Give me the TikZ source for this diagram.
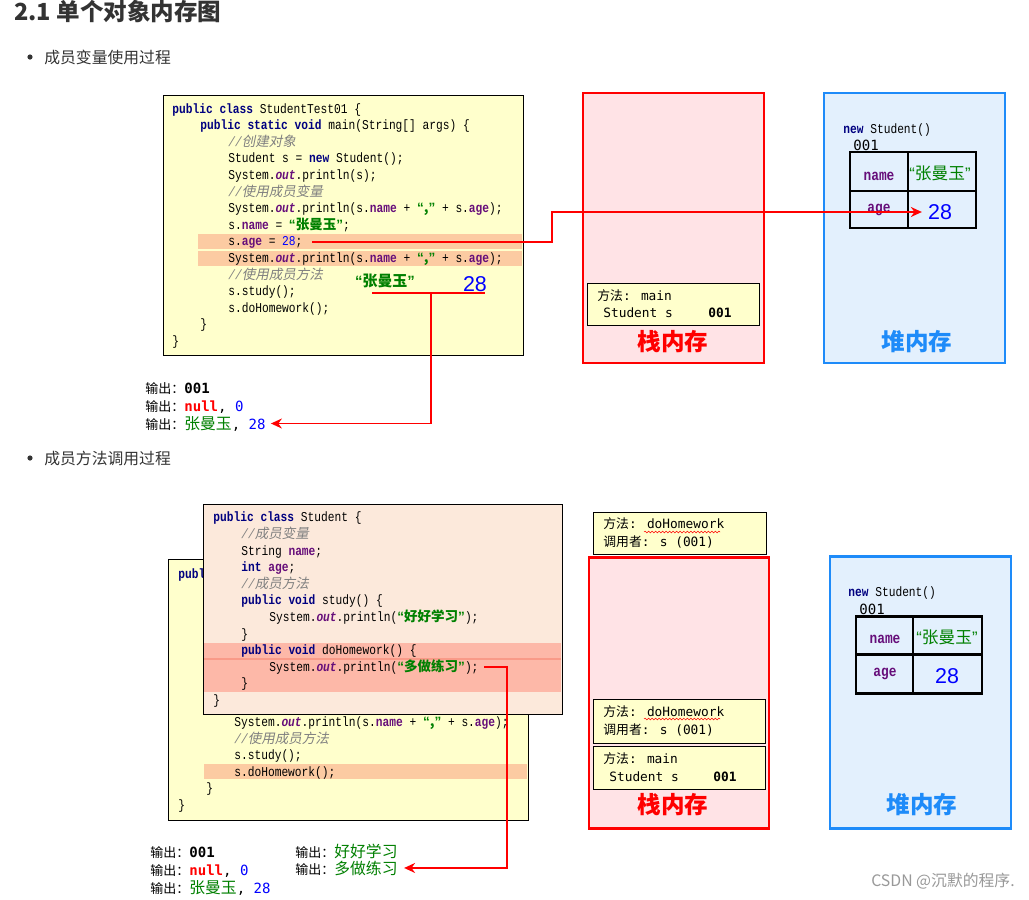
\documentclass[tikz,border=0pt]{standalone}
\usepackage{fontspec}
\usepackage{xcolor}
\usepackage{tikz}
\usetikzlibrary{arrows.meta,decorations.pathmorphing}
\setmainfont{Liberation Sans}
\setmonofont{Liberation Mono}[FakeStretch=0.83]
\newfontfamily\cjk{Noto Sans CJK SC}[ItalicFont={Noto Sans CJK SC},ItalicFeatures={FakeSlant=0.2}]
\newfontfamily\outmono{DejaVu Sans Mono}
\definecolor{kwblue}{HTML}{000080}
\definecolor{fldpurple}{HTML}{660E7A}
\definecolor{strgreen}{HTML}{008000}
\definecolor{cmtgray}{HTML}{808080}
\definecolor{numblue}{HTML}{0000FF}
\definecolor{codebg}{HTML}{FFFFCC}
\definecolor{hlpeach}{HTML}{FCCBA2}
\definecolor{frontbg}{HTML}{FCE9DB}
\definecolor{hlsalmon}{HTML}{FDB8A8}
\definecolor{salmonline}{HTML}{F99A88}
\definecolor{stackbg}{HTML}{FFE3E6}
\definecolor{stackred}{HTML}{FF0000}
\definecolor{heapbg}{HTML}{E3F0FD}
\definecolor{heapblue}{HTML}{1E8BF9}
\definecolor{headgray}{HTML}{333333}
\newcommand\codefont{\ttfamily\fontsize{7.7}{9.45}\selectfont}
\newcommand\outfont{\cjk\fontsize{7.4}{9}\selectfont}
\newcommand\framefont{\fontsize{7.3}{9}\selectfont}
\newcommand\omono{\outmono\fontsize{8}{9}\selectfont}
\newcommand\codeind{\hspace*{0.56cm}}
\newcommand\kw[1]{{\bfseries\color{kwblue}#1}}
\newcommand\fld[1]{{\bfseries\color{fldpurple}#1}}
\newcommand\outf{{\bfseries\itshape\color{fldpurple}out}}
\newcommand\cmt[1]{{\itshape\color{cmtgray}#1}}
\newcommand\zhq[1]{{\rmfamily“}#1{\rmfamily”}}
\newcommand\jstr[1]{{\cjk\bfseries\color{strgreen}#1}}
\tikzset{
  codebox/.style={draw=black,fill=codebg,line width=0.5pt},
  frontbox/.style={draw=black,fill=frontbg,line width=0.5pt},
  codetext/.style={anchor=base west,inner sep=0pt,align=left,font=\codefont},
  stackbox/.style={draw=stackred,fill=stackbg,line width=1.7pt},
  heapbox/.style={draw=heapblue,fill=heapbg,line width=1.7pt},
  framebox/.style={draw=black,fill=codebg,line width=0.5pt},
  frametext/.style={anchor=west,inner sep=0pt,font=\framefont},
  objtable/.style={draw=black,line width=1.7pt},
  cellkey/.style={font=\ttfamily\bfseries\fontsize{8.8}{10}\selectfont,fldpurple},
  cellname/.style={font=\cjk\fontsize{9.5}{11}\selectfont,strgreen},
  cellage/.style={font=\fontsize{12.2}{14}\selectfont,numblue},
  memlabel/.style={font=\cjk\bfseries\fontsize{13.4}{15}\selectfont},
  outtext/.style={anchor=base west,inner sep=0pt,font=\outfont},
  bullettext/.style={anchor=west,inner sep=0pt,headgray,font=\cjk\fontsize{9}{11}\selectfont},
  redarrow/.style={-{Stealth[length=2.2mm,width=2mm]},line width=0.9pt,stackred},
  redline/.style={line width=0.9pt,stackred},
  wavy/.style={draw=stackred,line width=0.3pt,decorate,
               decoration={snake,amplitude=0.5pt,segment length=2pt}},
}

\begin{document}
\begin{tikzpicture}[x=0.02cm,y=-0.02cm]
  \useasboundingbox[fill=white](0,0)rectangle(1029,900);
  % heading and bullets
  \node[anchor=west,inner sep=0pt,headgray,font=\cjk\bfseries\fontsize{13.4}{15}\selectfont]
    (title)at(14,12){2.1 单个对象内存图};
  \fill[headgray](30,57)circle(2.6);
  \node[bullettext](bullet1)at(44,57){成员变量使用过程};
  \fill[headgray](30,458)circle(2.6);
  \node[bullettext](bullet2)at(44,458){成员方法调用过程};

  % ---- part 1: member variables ----
  \draw[codebox](163,95)rectangle(523,355);
  \fill[hlpeach](198,234)rectangle(522,249);
  \fill[hlpeach](198,251)rectangle(522,266);
  % base of a multi-line node = baseline of its last line
  \node[codetext](maincode)at(172,345.5){%
    \kw{public class} StudentTest01 \{\\
    \codeind\kw{public static void} main(String[] args) \{\\
    \codeind\codeind\cmt{//\cjk 创建对象}\\
    \codeind\codeind Student s = \kw{new} Student();\\
    \codeind\codeind System.\outf.println(s);\\
    \codeind\codeind\cmt{//\cjk 使用成员变量}\\
    \codeind\codeind System.\outf.println(s.\fld{name} + \jstr{\zhq{,}} + s.\fld{age});\\
    \codeind\codeind s.\fld{name} = \jstr{\zhq{张曼玉}};\\
    \codeind\codeind s.\fld{age} = {\color{numblue}28};\\
    \codeind\codeind System.\outf.println(s.\fld{name} + \jstr{\zhq{,}} + s.\fld{age});\\
    \codeind\codeind\cmt{//\cjk 使用成员方法}\\
    \codeind\codeind s.study();\\
    \codeind\codeind s.doHomework();\\
    \codeind\}\\
    \}};
  \node[font=\cjk\bfseries\fontsize{8.5}{10}\selectfont,strgreen](printname)at(385,281)
    {\zhq{张曼玉}};
  \node[cellage](printage)at(475,284){28};
  \draw[redline](372,293)--(485,293);

  % stack
  \draw[stackbox](583,93)rectangle(764,363);
  \draw[framebox](587,283)rectangle(759,325);
  \node[frametext](mainframe)at(597,296){\cjk 方法\outmono: main};
  \node[frametext](mainvar)at(603,313){\outmono Student s};
  \node[frametext](mainref)at(708,313){\outmono\bfseries 001};
  \node[memlabel,stackred](stacklabel)at(673,342){栈内存};

  % heap
  \draw[heapbox](824,93)rectangle(1005,363);
  \node[anchor=west,inner sep=0pt,font=\codefont](newobj)at(843,130){\kw{new} Student()};
  \node[anchor=west,inner sep=0pt,font=\omono](objaddr)at(853,145){001};
  \draw[objtable](850,152)rectangle(976,228);
  \draw[objtable](908,152)--(908,228);
  \draw[objtable](850,191)--(976,191);
  \node[cellkey](heapname)at(879,176){name};
  \node[cellname](heapnameval)at(940,173){\zhq{张曼玉}};
  \node[cellkey](heapage)at(879,210){age};
  \node[cellage](heapageval)at(940,212){28};
  \node[memlabel,heapblue](heaplabel)at(917,342){堆内存};

  % output
  \node[outtext](out1)at(145,393){输出：{\omono\bfseries 001}};
  \node[outtext](out2)at(145,411){输出：{\omono\bfseries\color{stackred}null}{\omono, \color{numblue}0}};
  \node[outtext](out3)at(145,429){输出：{\fontsize{9}{10}\selectfont\color{strgreen}张曼玉}{\omono, \color{numblue}28}};

  \coordinate(agestart)at(312,242);
  \draw[redarrow](agestart)--(552,242)|-(heapageval.west);
  \coordinate(printtap)at(431,293);
  \draw[redarrow](printtap)|-([xshift=2.8pt]out3.east);

  % ---- part 2: member methods ----
  % back sheet: only what shows past the front sheet
  \draw[codebox](168,559)rectangle(528,820);
  \fill[hlpeach](204,764)rectangle(527,779);
  \node[codetext](backhead)at(178,578.5){\kw{publ}};
  \node[codetext](backcode)at(178,809.5){%
    \codeind\codeind System.\outf.println(s.\fld{name} + \jstr{\zhq{,}} + s.\fld{age});\\
    \codeind\codeind\cmt{//\cjk 使用成员方法}\\
    \codeind\codeind s.study();\\
    \codeind\codeind s.doHomework();\\
    \codeind\}\\
    \}};
  \draw[frontbox](203,504)rectangle(562,714);
  \fill[hlsalmon](204,643)rectangle(561,692);
  \draw[salmonline,line width=0.8pt](204,659)--(561,659);
  \node[codetext](studentcode)at(213,704.5){%
    \kw{public class} Student \{\\
    \codeind\cmt{//\cjk 成员变量}\\
    \codeind String \fld{name};\\
    \codeind\kw{int} \fld{age};\\
    \codeind\cmt{//\cjk 成员方法}\\
    \codeind\kw{public void} study() \{\\
    \codeind\codeind System.\outf.println(\jstr{\zhq{好好学习}});\\
    \codeind\}\\
    \codeind\kw{public void} doHomework() \{\\
    \codeind\codeind System.\outf.println(\jstr{\zhq{多做练习}});\\
    \codeind\}\\
    \}};

  % stack with two frames
  \draw[framebox](593,512)rectangle(766,554);
  \node[frametext](callframe)at(603,524){\cjk 方法\outmono: doHomework};
  \node[frametext](callcaller)at(603,542){\cjk 调用者\outmono: s (001)};
  \draw[wavy](644,532)--(720,532);
  \draw[stackbox](589,557)rectangle(769,828);
  \draw[framebox](593,699)rectangle(765,743);
  \node[frametext](hwframe)at(603,712){\cjk 方法\outmono: doHomework};
  \node[frametext](hwcaller)at(603,730){\cjk 调用者\outmono: s (001)};
  \draw[wavy](644,719)--(720,719);
  \draw[framebox](593,746)rectangle(765,789);
  \node[frametext](mainframe2)at(603,759){\cjk 方法\outmono: main};
  \node[frametext](mainvar2)at(609,777){\outmono Student s};
  \node[frametext](mainref2)at(713,777){\outmono\bfseries 001};
  \node[memlabel,stackred](stacklabel2)at(673,805){栈内存};

  % heap
  \draw[heapbox](830,556)rectangle(1011,828);
  \node[anchor=west,inner sep=0pt,font=\codefont](newobj2)at(848,593){\kw{new} Student()};
  \node[anchor=west,inner sep=0pt,font=\omono](objaddr2)at(859,609){001};
  \draw[objtable](856,616)rectangle(982,693);
  \draw[objtable](913,616)--(913,693);
  \draw[objtable](856,654)--(982,654);
  \node[cellkey](heapname2)at(885,639){name};
  \node[cellname](heapnameval2)at(947,637){\zhq{张曼玉}};
  \node[cellkey](heapage2)at(885,674){age};
  \node[cellage](heapageval2)at(947,676){28};
  \node[memlabel,heapblue](heaplabel2)at(922,805){堆内存};

  % output
  \node[outtext](bout1)at(150,857){输出：{\omono\bfseries 001}};
  \node[outtext](bout2)at(150,875){输出：{\omono\bfseries\color{stackred}null}{\omono, \color{numblue}0}};
  \node[outtext](bout3)at(150,893){输出：{\fontsize{9}{10}\selectfont\color{strgreen}张曼玉}{\omono, \color{numblue}28}};
  \node[outtext](bout4)at(295,857){输出：{\fontsize{9}{10}\selectfont\color{strgreen}好好学习}};
  \node[outtext](bout5)at(295,874){输出：{\fontsize{9}{10}\selectfont\color{strgreen}多做练习}};

  \coordinate(hwstart)at(484,667);
  \draw[redarrow](hwstart)--(507,667)|-([xshift=3.5pt]bout5.east);

  \node[anchor=east,inner sep=0pt,gray!80,font=\cjk\fontsize{9}{10}\selectfont](mark)at(1015,881)
    {CSDN @沉默的程序.};
\end{tikzpicture}
\end{document}
